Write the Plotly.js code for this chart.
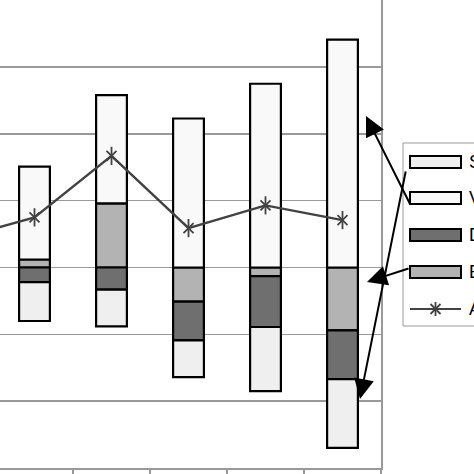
<!DOCTYPE html>
<html>
<head>
<meta charset="utf-8">
<script src="https://cdn.plot.ly/plotly-3.0.1.min.js"></script>
<style>
  html, body { margin: 0; padding: 0; background: #fff; }
  #grafica { width: 474px; height: 474px; }
</style>
</head>
<body>
<div id="grafica"></div>
<script>
// Datos (unidades = una línea de la rejilla)

let posiciones = [1, 2, 3, 4, 5];
let posiciones_linea = [0, 1, 2, 3, 4, 5];

let serie_B = [0.12, 0.96, -0.51, -0.13, -0.94];
let serie_D = [-0.22, -0.33, -0.58, -0.76, -0.73];
let serie_S = [-0.58, -0.55, -0.55, -0.96, -1.03];
let serie_V = [1.39, 1.62, 2.23, 2.75, 3.41];
let serie_A = [0.43, 0.75, 1.67, 0.59, 0.93, 0.71];

let nombres = ['S', 'V', 'D', 'B', 'A'];


// Dimensiones del área de dibujo (px)
let ancho_area = 381;
let alto_area = 468;

// Paso de pixel a coordenadas "paper"
let px = function (x) { return x / ancho_area; };
let py = function (y) { return (alto_area - y) / alto_area; };


let borde = { color: '#000', width: 2.2 };
let gris_linea = '#424242';

let barra = function (y, nombre, color) {
  return {
    type: 'bar',
    x: posiciones,
    y: y,
    name: nombre,
    width: 0.4,
    marker: { color: color, line: borde },
    showlegend: false,
    hoverinfo: 'skip'
  };
};

let data = [
  barra(serie_B, 'B', '#b3b3b3'),
  barra(serie_D, 'D', '#6f6f6f'),
  barra(serie_S, 'S', '#efefef'),
  barra(serie_V, 'V', '#f9f9f9'),
  {
    type: 'scatter',
    mode: 'lines+markers',
    x: posiciones_linea,
    y: serie_A,
    name: 'A',
    line: { color: gris_linea, width: 2.4 },
    marker: { symbol: 'x-thin-open', size: 10, color: gris_linea, line: { color: gris_linea, width: 1.8 } },
    showlegend: false,
    hoverinfo: 'skip'
  },
  {
    type: 'scatter',
    mode: 'markers',
    x: posiciones_linea,
    y: serie_A,
    marker: { symbol: 'line-ns-open', size: 13, color: gris_linea, line: { color: gris_linea, width: 1.8 } },
    showlegend: false,
    hoverinfo: 'skip'
  }
];


// Leyenda dibujada a mano (la original está recortada por la derecha)
let colores_leyenda = ['#efefef', '#f9f9f9', '#6f6f6f', '#b3b3b3'];
let filas_leyenda = [162, 198, 235, 272, 309];

let formas = [
  {
    type: 'rect', xref: 'paper', yref: 'paper',
    x0: px(403), x1: px(490), y0: py(143), y1: py(326),
    line: { color: '#999', width: 1 }, fillcolor: '#fff', layer: 'below'
  }
];

colores_leyenda.forEach(function (c, i) {
  formas.push({
    type: 'rect', xref: 'paper', yref: 'paper',
    x0: px(410), x1: px(461), y0: py(filas_leyenda[i] - 6), y1: py(filas_leyenda[i] + 6),
    line: { color: '#000', width: 2 }, fillcolor: c
  });
});

let fy = filas_leyenda[4];
formas.push(
  { type: 'line', xref: 'paper', yref: 'paper', x0: px(410), x1: px(461), y0: py(fy), y1: py(fy),
    line: { color: gris_linea, width: 2.2 } },
  { type: 'line', xref: 'paper', yref: 'paper', x0: px(435.5), x1: px(435.5), y0: py(fy - 7), y1: py(fy + 7),
    line: { color: gris_linea, width: 1.8 } },
  { type: 'line', xref: 'paper', yref: 'paper', x0: px(430.5), x1: px(440.5), y0: py(fy - 5), y1: py(fy + 5),
    line: { color: gris_linea, width: 1.8 } },
  { type: 'line', xref: 'paper', yref: 'paper', x0: px(430.5), x1: px(440.5), y0: py(fy + 5), y1: py(fy - 5),
    line: { color: gris_linea, width: 1.8 } }
);

let anotaciones = nombres.map(function (t, i) {
  return {
    xref: 'paper', yref: 'paper', x: px(467), y: py(filas_leyenda[i]),
    xanchor: 'left', yanchor: 'middle', showarrow: false,
    text: t, font: { family: 'Liberation Sans, Arial, sans-serif', size: 18, color: '#000' }
  };
});

// Flechas: punta en (x, y), cola desplazada (ax, ay) en px
let flecha = function (x, y, ax, ay) {
  return {
    xref: 'paper', yref: 'paper', x: px(x), y: py(y), ax: ax, ay: ay,
    text: '', showarrow: true, arrowhead: 2, arrowsize: 2, arrowwidth: 2,
    arrowcolor: '#000', standoff: 0, startstandoff: 0
  };
};

anotaciones.push(
  flecha(366, 116, 45, 90),
  flecha(367, 282, 43, -14),
  flecha(360, 399, 46, -229)
);


let layout = {
  width: 474,
  height: 474,
  margin: { l: 0, r: 474 - ancho_area, t: 0, b: 474 - alto_area, pad: 0 },
  paper_bgcolor: '#fff',
  plot_bgcolor: '#fff',
  barmode: 'relative',
  showlegend: false,
  xaxis: {
    range: [0.552, 5.5],
    tickvals: [1.5, 2.5, 3.5, 4.5, 5.5],
    ticks: 'outside',
    ticklen: 6,
    tickwidth: 1.5,
    tickcolor: '#999',
    showticklabels: false,
    showgrid: false,
    zeroline: false,
    showline: true,
    linecolor: '#999',
    linewidth: 1.5,
    automargin: false,
    fixedrange: true
  },
  yaxis: {
    range: [-3, 4.003],
    tickvals: [-2, -1, 0, 1, 2, 3],
    showticklabels: false,
    showgrid: true,
    gridcolor: '#999',
    gridwidth: 1.4,
    zeroline: false,
    side: 'right',
    showline: true,
    linecolor: '#999',
    linewidth: 1.5,
    automargin: false,
    fixedrange: true
  },
  shapes: formas,
  annotations: anotaciones
};

let config = { staticPlot: true, displayModeBar: false };

Plotly.newPlot('grafica', data, layout, config);
</script>
</body>
</html>
